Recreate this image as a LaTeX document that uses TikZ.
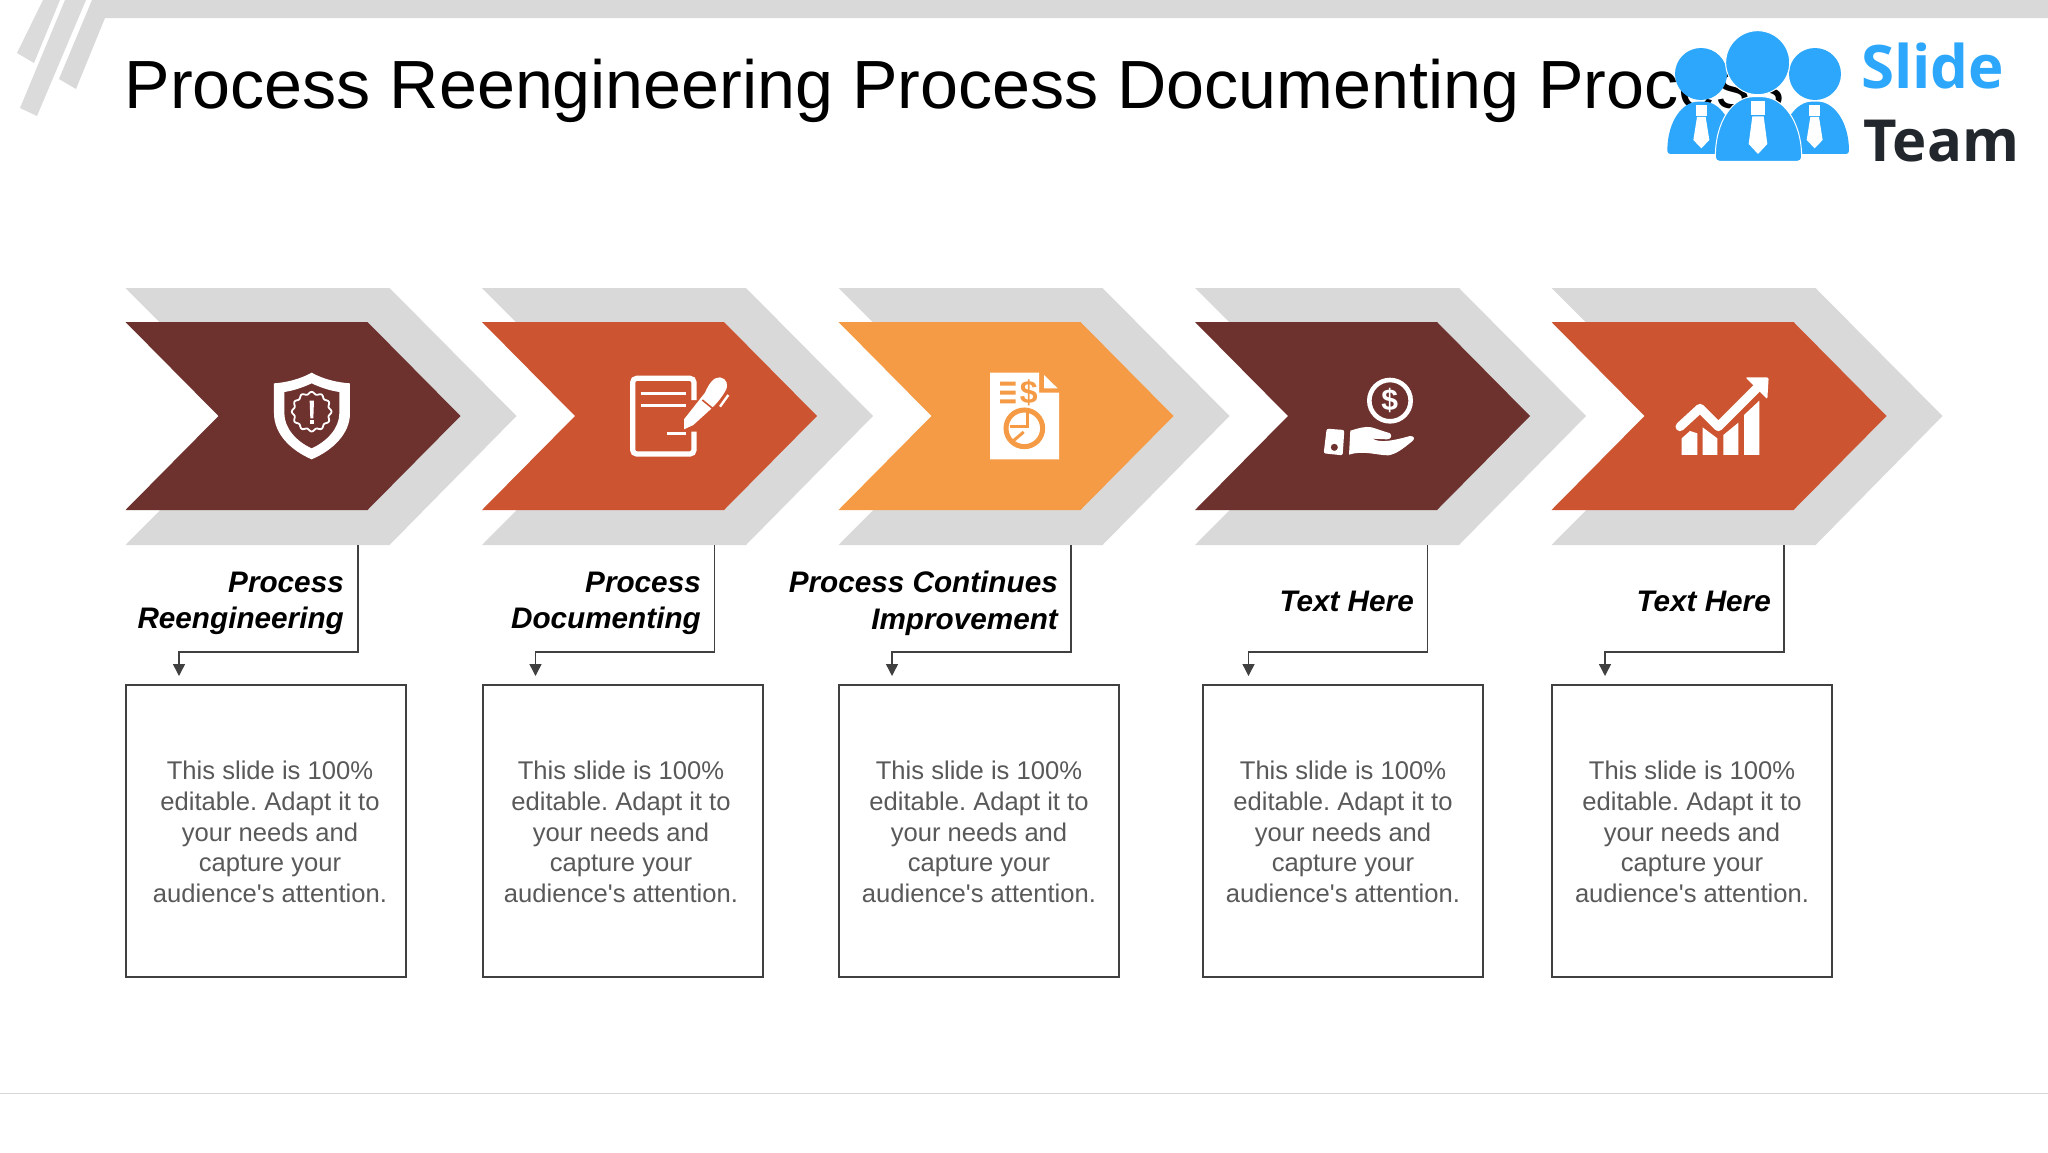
\documentclass[tikz,border=0pt]{standalone}
\usepackage{fontspec}
\setmainfont{Liberation Sans}[Ligatures=TeXOff]
\newfontfamily\logofont{Open Sans}
\usetikzlibrary{arrows.meta}
\definecolor{cbrown}{HTML}{6E322E}
\definecolor{cred}{HTML}{CD5430}
\definecolor{corange}{HTML}{F59B45}
\definecolor{cgrey}{HTML}{D9D9D9}
\definecolor{cline}{HTML}{404040}
\definecolor{ctext}{HTML}{595959}
\definecolor{cblue}{HTML}{2CA7FC}
\definecolor{cdark}{HTML}{21272C}
\tikzset{
  boxnode/.style={draw=cline,line width=1.6pt,minimum width=280pt,minimum height=292pt,inner sep=0pt,anchor=north west},
  bodytext/.style={text=ctext,align=center,inner sep=0pt,font=\frenchspacing\fontsize{25.6}{30.6}\selectfont},
  labeltext/.style={text=black,align=right,inner sep=0pt,anchor=east,font=\fontsize{29.7}{36.5}\selectfont\bfseries\itshape},
  link/.style={draw=cline,line width=1.4pt,-{Triangle[width=12pt,length=12pt]}},
  icon/.style={x=0.3333pt,y=-0.3333pt},
}
\newcommand{\chevron}[3]{%
  \fill[cgrey] (#1,288) -- ++(264,0) -- ++(127,128) -- ++(-127,129) -- ++(-264,0) -- ++(128,-129) -- cycle;
  \fill[#3] (#1,322) -- ++(242,0) -- ++(93,94) -- ++(-93,94) -- ++(-242,0) -- ++(93,-94) -- cycle;
  \coordinate (c#2) at ({#1+232.5},545);
  \coordinate (t#2) at ({#1+53.5},676);
}
\begin{document}
\begin{tikzpicture}[x=1pt,y=-1pt]
\useasboundingbox (0,0) rectangle (2048,1152);
\fill[white] (0,0) rectangle (2048,1152);
% corner and top band
\fill[cgrey] (92,0) -- (2048,0) -- (2048,18) -- (105,18) -- (76,89) -- (59,79) -- cycle;
\fill[cgrey!95!white] (43,0) -- (60,0) -- (34,63) -- (17,53) -- cycle;
\fill[cgrey!95!white] (65,0) -- (86,0) -- (37,116) -- (20,108) -- cycle;
\draw[cgrey,line width=1pt] (0,1093) -- (2048,1093);
% title
\node[anchor=base west,inner sep=0pt,font=\fontsize{68.2}{80}\selectfont] (title) at (124.5,108) {Process Reengineering Process Documenting Process};
% chevrons
\chevron{125.5}{1}{cbrown}
\chevron{482}{2}{cred}
\chevron{838.5}{3}{corange}
\chevron{1195}{4}{cbrown}
\chevron{1551.5}{5}{cred}
% boxes
\node[boxnode] (b1) at (125,684) {};
\node[boxnode] (b2) at (482,684) {};
\node[boxnode] (b3) at (838,684) {};
\node[boxnode] (b4) at (1202,684) {};
\node[boxnode] (b5) at (1551,684) {};
\foreach \cx/\n in {270/1,621/2,979/3,1343/4,1692/5}{
  \node[bodytext] (txt\n) at (\cx,832) {This slide is 100\%\\editable. Adapt it to\\your needs and\\capture your\\audience's attention.};
}
% connectors
\foreach \n in {1,...,5}{
  \draw[link] (c\n) |- ++(-179,107) coordinate (m\n) -| (t\n);
}
% labels
\node[labeltext] (l1) at (344,603.5) {Process\\Reengineering};
\node[labeltext] (l2) at (701,603.5) {Process\\Documenting};
\node[labeltext] (l3) at (1058,603.5) {Process Continues\\Improvement};
\node[labeltext] (l4) at (1414,601) {Text Here};
\node[labeltext] (l5) at (1771,601) {Text Here};
% shield icon
\begin{scope}[shift={(240,350)},icon]
  \fill[white,even odd rule] (215,68) .. controls (250,88) and (295,98) .. (330,100) -- (330,190) .. controls (330,250) and (280,300) .. (215,328) .. controls (150,300) and (102,250) .. (102,190) -- (102,100) .. controls (135,98) and (180,88) .. (215,68) -- cycle
    (215,100) .. controls (190,112) and (160,122) .. (133,126) -- (133,190) .. controls (133,235) and (170,275) .. (215,295) .. controls (260,275) and (298,235) .. (298,190) -- (298,126) .. controls (270,122) and (240,112) .. (215,100) -- cycle;
  \draw[white,line width=1.8pt] plot[domain=0:360,samples=145,smooth] ({215+(56+3.5*cos(12*\x))*cos(\x)},{185+(56+3.5*cos(12*\x))*sin(\x)});
  \fill[white] (209,152) -- (222,152) -- (220,205) -- (211,205) -- cycle;
  \fill[white] (209,211) rectangle (221,223);
\end{scope}
% document and pen icon
\begin{scope}[shift={(610,350)},icon]
  \draw[white,line width=5.2pt,rounded corners=4pt] (252,150) -- (252,85) -- (68,85) -- (68,312) -- (252,312) -- (252,245);
  \draw[white,line width=3.6pt] (92,130) -- (228,130) (92,166) -- (228,166) (172,250) -- (228,250);
  \fill[white] (222,238) -- (222,208) -- (285,128) .. controls (295,105) and (310,80) .. (330,82) .. controls (350,85) and (358,105) .. (345,125) .. controls (330,150) and (315,165) .. (305,175) -- (250,225) -- cycle;
  \draw[cred,line width=1.6pt] (277,150) -- (310,177);
  \draw[white,line width=2.4pt] (330,170) -- (355,135);
\end{scope}
% finance document icon
\begin{scope}[shift={(965,350)},icon]
  \fill[white] (75,68) -- (222,68) -- (222,128) -- (282,128) -- (282,328) -- (75,328) -- cycle;
  \fill[white] (237,75) -- (278,115) -- (237,115) -- cycle;
  \fill[corange] (105,95) rectangle (152,107) (105,122) rectangle (152,134) (105,148) rectangle (152,160);
  \node[text=corange,inner sep=0pt,font=\fontsize{32}{32}\selectfont\bfseries] (dol1) at (191,127) {\$};
  \draw[corange,line width=5pt] (178,235) circle (55);
  \draw[corange,line width=3pt] (186,185) -- (186,230) -- (135,230);
  \draw[corange,line width=3pt] (176,246) -- (142,275);
\end{scope}
% hand and coin icon
\begin{scope}[shift={(1300,350)},icon]
  \draw[white,line width=4.6pt] (270,152) circle (62);
  \node[text=white,inner sep=0pt,font=\fontsize{30}{30}\selectfont\bfseries] (dol2) at (269,152) {\$};
  \fill[white,rounded corners=2pt,even odd rule] (80,236) -- (133,240) -- (128,316) -- (71,310) -- cycle (103,292) circle (11);
  \fill[white] (151,242) .. controls (175,235) and (195,228) .. (215,232) .. controls (240,240) and (255,245) .. (270,250) .. controls (278,258) and (272,268) .. (260,268) -- (218,266) .. controls (240,280) and (280,272) .. (330,258) .. controls (345,258) and (345,268) .. (335,275) .. controls (310,295) and (290,312) .. (265,316) .. controls (230,316) and (190,300) .. (147,314) -- cycle;
\end{scope}
% growth chart icon
\begin{scope}[shift={(1660,350)},icon]
  \fill[white] (65,265) -- (90,243) -- (112,250) -- (112,315) -- (65,315) -- cycle;
  \fill[white] (128,232) -- (172,265) -- (172,315) -- (128,315) -- cycle;
  \fill[white] (190,255) -- (235,218) -- (235,315) -- (190,315) -- cycle;
  \fill[white] (252,195) -- (298,152) -- (298,315) -- (252,315) -- cycle;
  \draw[white,line width=9pt,line cap=round,line join=round] (60,230) -- (120,175) -- (175,230) -- (295,110);
  \fill[white,rounded corners=2pt] (256,82) -- (326,82) -- (322,148) -- cycle;
\end{scope}
% logo
\begin{scope}[shift={(1640,0)},icon]
  \fill[cblue,rounded corners=3pt] (82,462) .. controls (82,360) and (130,305) .. (183,305) .. controls (236,305) and (284,360) .. (284,462) -- cycle;
  \fill[cblue,rounded corners=3pt] (423,462) .. controls (423,360) and (471,305) .. (525,305) .. controls (578,305) and (627,360) .. (627,462) -- cycle;
  \fill[cblue] (183,222) circle (78);
  \fill[cblue] (525,222) circle (78);
  \filldraw[draw=white,line width=1pt,fill=cblue] (353,188) circle (96);
  \filldraw[draw=white,line width=1pt,fill=cblue,rounded corners=4pt] (226,484) .. controls (226,360) and (280,290) .. (353,290) .. controls (426,290) and (485,360) .. (485,484) -- cycle;
  \foreach \tx/\ty in {184/315,524/315}{
    \fill[white] ({\tx-17},\ty) rectangle ({\tx+17},{\ty+33});
    \fill[white] ({\tx-13},{\ty+36}) -- ({\tx+13},{\ty+36}) -- ({\tx+24},{\ty+105}) -- (\tx,{\ty+130}) -- ({\tx-24},{\ty+105}) -- cycle;
  }
  \fill[white] (332,302) rectangle (376,345);
  \fill[white] (337,349) -- (371,349) -- (382,432) -- (354,462) -- (326,432) -- cycle;
\end{scope}
\node[anchor=base west,inner sep=0pt,text=cblue,font=\logofont\fontsize{60}{60}\selectfont\bfseries] (logo1) at (1861,88) {Slide};
\node[anchor=base west,inner sep=0pt,text=cdark,font=\logofont\fontsize{58}{58}\selectfont\bfseries] (logo2) at (1863,161) {Team};
\end{tikzpicture}
\end{document}
